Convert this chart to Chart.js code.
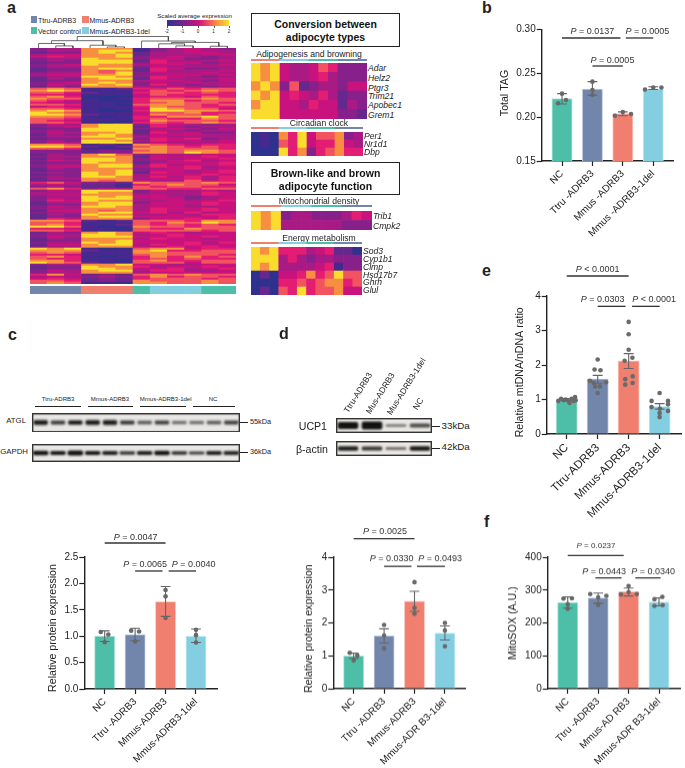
<!DOCTYPE html>
<html><head><meta charset="utf-8">
<script src="https://cdn.jsdelivr.net/npm/chart.js@4"></script>
<style>
html,body{margin:0;padding:0;background:#fff;width:685px;height:768px;overflow:hidden;font-family:"Liberation Sans",Arial,sans-serif}
#page{position:relative;width:685px;height:768px;overflow:hidden}
canvas{position:absolute;display:block}
.t{position:absolute;white-space:nowrap;color:#222;line-height:1}
.box{position:absolute;border:1.2px solid #222;box-sizing:border-box}
</style></head><body><div id="page"></div>
<script>
// ---------- data ----------
const barCategoriesB = ["NC","Ttru -ADRB3","Mmus -ADRB3","Mmus -ADRB3-1del"];
const barCategoriesC = ["NC","Ttru -ADRB3","Mmus-ADRB3","Mmus-ADRB3-1del"];
const barCategoriesD = ["NC","Ttru -ADRB3","Mmus-ADRB3","Mmus-ADR B3-1del"];
const barCategoriesE = ["NC","Ttru-ADRB3","Mmus-ADRB3","Mmus-ADRB3-1del"];
const barCategoriesF = ["NC","Ttru -ADRB3","Mmus-AD RB3","Mmus-ADR B3-1del"];

const tagMeans = [0.221,0.232,0.204,0.232];
const tagLow   = [0.215,0.225,0.2015,0.2315];
const tagHigh  = [0.2267,0.2404,0.206,0.2345];
const tagPoints = [[0,0.2267],[-0.13,0.2157],[0.13,0.2195],[1,0.2404],[1,0.2309],[1,0.2252],[1.74,0.2016],[2,0.2058],[2.27,0.2035],[2.73,0.2313],[3,0.2336],[3.27,0.2336]];

const atglMeans = [1.0,1.03,1.655,1.0];
const atglLow   = [0.9,0.915,1.375,0.88];
const atglHigh  = [1.1,1.15,1.94,1.135];
const atglPoints = [[-0.13,1.08],[0.12,1.03],[0,0.884],[0.87,1.105],[1.13,1.09],[1,0.9],[2,1.875],[2,1.755],[2,1.345],[3,1.12],[3,1.02],[3,0.88]];

const ucpMeans = [1.0,1.61,2.66,1.69];
const ucpLow   = [0.92,1.39,2.35,1.48];
const ucpHigh  = [1.08,1.82,2.96,1.91];
const ucpPoints = [[-0.13,1.09],[0.12,1.01],[0,0.86],[1,1.94],[1,1.62],[1,1.225],[2,3.24],[2,2.46],[2,2.28],[3,2.0],[3,1.77],[3,1.29]];

const mtMeans = [1.0,1.6,2.12,0.8];
const mtLow   = [0.97,1.47,1.9,0.72];
const mtHigh  = [1.03,1.7,2.33,0.88];
const mtPoints = [[-0.27,0.96],[-0.18,1.02],[-0.1,0.98],[-0.04,1.0],[0.03,0.98],[0.09,0.9],[0.16,1.02],[0.22,0.96],[0.27,1.07],[0.29,0.98],
 [1,2.16],[0.9,1.87],[1.09,1.85],[0.75,1.54],[0.87,1.48],[1.27,1.5],[1.07,1.38],[1,1.19],[0.92,1.38],
 [2,3.25],[2,2.89],[2,2.44],[1.87,2.12],[2.12,2.21],[2.13,1.67],[1.89,1.59],[1.89,1.43],[2.13,1.48],
 [3,1.19],[2.74,0.96],[3.27,0.96],[2.74,0.78],[3,0.61],[3,0.49],[3.27,0.67],[3.01,0.73],[3.27,0.86]];

const soxMeans = [262,276,295,264];
const soxLow   = [245,260,282,252];
const soxHigh  = [279,291,306,276];
const soxPoints = [[-0.14,274],[0.14,275],[0,257],[0,243],[0.74,288],[1,278],[1.27,282.5],[1,255],[2,312],[1.75,286.6],[2,294],[2.27,288],[2.85,272],[3.11,279.5],[2.85,252],[3.12,254]];

const barColors = ["#4DBFA9","#7285AB","#F07F6F","#83CFE1"];
const barEdges  = ["#B5E4DA","#C3CDE0","#F9C8C0","#C8ECF4"];

const heatLevels = ["#2F318F","#46298E","#66288C","#87208A","#A91A84","#C8127E","#E31C74","#F2545F","#F88F40","#F9DC2C"];

const mainHeatRows = [
"344 888 134543","344 899 134544","233 898 244554","455 889 244455","565 889 345434","344 988 355334","343 999 264445","233 999 365534","345 988 455445","344 888 354444","233 899 265334","233 878 264445","344 879 354454","455 889 345545","344 998 365434","243 899 264445","233 888 455435","345 898 354544","354 989 364345","243 888 445434",
"787 112 667677","898 111 576787","776 211 677676","665 111 576666","786 000 566576","877 101 677787","765 100 688677","654 111 678776","776 110 788767","565 111 687766","776 101 598775","898 100 699887","987 111 577866","998 211 587767","887 101 668897","776 111 676687","765 110 587776","776 101 676787",
"354 899 365434","345 899 264344","233 999 345435","343 999 254344","354 889 264533","243 898 355544","344 998 454444","233 889 365634","343 998 465545","354 999 354445",
"887 121 876566","998 212 787676","776 111 887776",
"333 233 787887","333 233 887987",
"243 897 344455","344 888 255565","243 998 354556","354 998 345645","233 988 245556","344 899 364556","355 899 465645","243 888 345645","233 889 355456","343 989 265456","233 989 455565","343 998 464646","244 888 455646","233 878 544756",
"675 332 877787","454 221 678775","343 221 767766","786 344 776677",
"354 999 354454","444 988 344465","455 888 454465","344 989 554345","354 999 455345","365 988 445456","244 899 355565","233 899 455465","354 998 455445","344 888 465565","255 878 465565","344 899 564645","243 988 445466","233 899 555556","265 888 355656",
"887 212 777688","776 111 768798","786 112 767676","997 101 877677","665 110 766877","776 111 777767",
"243 898 565455","344 998 456555","354 999 556565","243 888 465545","233 889 555555","344 989 555646","255 899 465655","344 888 556565",
"989 100 788566","888 211 896677","787 111 887777","665 111 787776","786 101 686867","766 111 676766","886 110 786677","987 211 777577",
"344 889 554455","233 988 645565","233 998 556456","354 899 466445","344 888 455555",
"685 232 787877","454 343 686776","565 232 677767","776 232 877787","787 111 887787"];
const mainGroups = ["Ttru","Ttru","Ttru","Mmus","Mmus","Mmus","Vector","Del","Del","Del","Vector","Vector"];
const stripGroups = ["Mmus","Del","Vector","Ttru"];
const groupColors = {Ttru:"#7285AB",Mmus:"#F07F6F",Vector:"#4DBFA9",Del:"#83CFE1"};

const adipoGenes = ["Adar","Helz2","Ptgr3","Trim21","Apobec1","Grem1"];
const adipoRows  = ["989 544 576 333","989 544 564 333","898 372 344 355","989 565 464 233","899 554 655 243","999 555 555 332"];
const clockGenes = ["Per1","Nr1d1","Dbp"];
const clockRows  = ["010 869 577 834","010 769 566 854","000 968 367 866"];
const mitoGenes  = ["Trib1","Cmpk2"];
const mitoRows   = ["989 344 333 465","989 444 444 333"];
const energyGenes = ["Sod3","Cyp1b1","Clmp","Hsd17b7","Ghrh","Glul"];
const energyRows  = ["989 666 456 220","999 464 344 333","989 444 456 133","020 556 867 977","000 667 678 867","020 769 677 855"];

// dendrogram links: left column, left base, right column, right base, height
const dendroLinks = [[1,0,2,0,6],[0,0,1.5,6,13],[4,0,5,0,3],[3,0,4.5,3,8],[0.75,13,3.75,8,21],[8,0,9,0,6],[7,0,8.5,6,12],[10,0,11,0,5],[7.75,12,10.5,5,16],[6,0,9.125,16,20],[2.25,21,7.56,20,33]];

const atglBands  = [1.0,0.75,0.95,1.0,1.05,0.8,0.6,0.72,0.55,0.55,0.6,0.72];
const gapdhBands = [0.95,0.9,1.05,0.9,0.85,0.7,0.85,0.95,0.75,0.65,0.85,0.8];
const ucp1Bands  = [1.0,1.15,0.3,0.55];
const actinBands = [0.85,0.7,0.45,0.9];

// ---------- helpers ----------
const FONT='"Liberation Sans"';
Chart.defaults.font.family=FONT;
Chart.defaults.animation=false;
const page=document.getElementById('page');
function mkCanvas(x,y,w,h){const c=document.createElement('canvas');c.width=w;c.height=h;c.style.left=x+'px';c.style.top=y+'px';c.style.width=w+'px';c.style.height=h+'px';page.appendChild(c);return c;}
function T(x,y,s,o={}){const d=document.createElement('div');d.className='t';d.textContent=s;
 d.style.left=x+'px';d.style.top=y+'px';d.style.fontSize=(o.size||9)+'px';
 if(o.bold)d.style.fontWeight='bold'; if(o.italic)d.style.fontStyle='italic'; if(o.color)d.style.color=o.color;
 const tx=o.align==='center'?'-50%':o.align==='right'?'-100%':'0';
 d.style.transformOrigin='left center';
 d.style.transform=`translate(${tx},-50%)`+(o.rot?` rotate(${o.rot}deg)`:'');
 page.appendChild(d);return d;}
function cellsChart(x,y,w,h,rows,colorOf){
 const n=rows.length,m=rows[0].length;
 const labels=Array.from({length:m},(_,i)=>String(i));
 const datasets=rows.slice().reverse().map(r=>({data:r.map(()=>1),backgroundColor:r.map(colorOf),borderWidth:0,barPercentage:1,categoryPercentage:1}));
 new Chart(mkCanvas(x,y,w,h),{type:'bar',data:{labels,datasets},options:{responsive:false,events:[],
  plugins:{legend:{display:false},tooltip:{enabled:false}},layout:{padding:0},
  scales:{x:{display:false,stacked:true},y:{display:false,stacked:true,min:0,max:n}}}});
}
const digitRows=rows=>rows.map(r=>r.replace(/ /g,'').split('').map(Number));
function heat(x,y,w,h,rows){cellsChart(x,y,w,h,digitRows(rows),v=>heatLevels[v]);}
function strip(x,y,w,h,groups){cellsChart(x,y,w,h,[groups],g=>groupColors[g]);}

function barPanel(c){
 const L=c.titleX-7,top=c.plotTop-c.padTop,W=c.plotRight+c.padRight-L,H=c.plotBottom+c.below-top;
 const annot={id:'annot',afterDatasetsDraw(ch){
  const ctx=ch.ctx,sx=ch.scales.x,sy=ch.scales.y;ctx.save();
  ctx.strokeStyle='#666';ctx.lineWidth=1.1;
  c.low.forEach((lo,i)=>{const hi=c.high[i],px=sx.getPixelForValue(i),a=sy.getPixelForValue(lo),b=sy.getPixelForValue(hi),cap=sx.getPixelForValue(i+0.16)-px;
   ctx.beginPath();ctx.moveTo(px,a);ctx.lineTo(px,b);ctx.moveTo(px-cap,a);ctx.lineTo(px+cap,a);ctx.moveTo(px-cap,b);ctx.lineTo(px+cap,b);ctx.stroke();});
  ctx.strokeStyle='#333';ctx.lineWidth=1.3;ctx.textBaseline='middle';ctx.fillStyle='#333';
  c.brackets.forEach(b=>{const y=sy.getPixelForValue(b.y);
   ctx.beginPath();ctx.moveTo(sx.getPixelForValue(b.x0),y);ctx.lineTo(sx.getPixelForValue(b.x1),y);ctx.stroke();
   const tx=sx.getPixelForValue(b.tx),ty=sy.getPixelForValue(b.ty);
   const size=b.size||9;
   ctx.font=`italic ${size}px ${FONT}`;const wP=ctx.measureText('P').width;
   ctx.font=`${size}px ${FONT}`;const rest=' '+b.text;const wR=ctx.measureText(rest).width;
   const sxx=tx-(wP+wR)/2;ctx.textAlign='left';
   ctx.font=`italic ${size}px ${FONT}`;ctx.fillText('P',sxx,ty);
   ctx.font=`${size}px ${FONT}`;ctx.fillText(rest,sxx+wP,ty);});
  // axis title, placed where the reference has it
  ctx.save();ctx.translate(7,c.titleY-top);ctx.rotate(-Math.PI/2);ctx.font=`10.6px ${FONT}`;ctx.fillStyle='#222';ctx.textAlign='center';ctx.textBaseline='middle';ctx.fillText(c.title,0,0);ctx.restore();
  ctx.restore();}};
 new Chart(mkCanvas(L,top,W,H),{
  data:{datasets:[
   {type:'bar',order:2,data:c.means.map((v,i)=>({x:i,y:v})),backgroundColor:barColors,borderColor:barEdges,borderWidth:1,barThickness:c.barW,borderSkipped:'bottom'},
   {type:'scatter',order:1,data:c.points.map(p=>({x:p[0],y:p[1]})),backgroundColor:'#6A6A6A',borderWidth:0,pointRadius:2.3}
  ]},
  options:{responsive:false,events:[],layout:{padding:{top:c.padTop,right:c.padRight,left:0,bottom:0}},
   plugins:{legend:{display:false},tooltip:{enabled:false}},
   scales:{
    x:{type:'linear',min:c.xMin,max:c.xMax,offset:false,
     grid:{display:true,drawOnChartArea:false,drawTicks:true,tickLength:5,tickColor:'#222',tickWidth:1.2,offset:false},
     border:{display:true,color:'#222',width:1.4},
     ticks:{autoSkip:false,minRotation:45,maxRotation:45,padding:2,color:'#222',font:{size:c.tickSize||10,family:FONT},callback:(v,i)=>c.cats[i]},
     afterBuildTicks:s=>{s.ticks=c.cats.map((_,i)=>({value:i}));},
     afterFit:s=>{s.height=c.below;}},
    y:{type:'linear',min:c.yMin,max:c.yMax,
     grid:{display:true,drawOnChartArea:false,drawTicks:true,tickLength:5,tickColor:'#222',tickWidth:1.2},
     border:{display:true,color:'#222',width:1.4},
     ticks:{stepSize:c.step,padding:1,color:'#222',font:{size:10,family:FONT},callback:v=>v.toFixed(c.dec)},
     afterFit:s=>{s.width=c.plotLeft-L;}}
   }},
  plugins:[annot]});
}

function blot(x,y,w,h,bands,thick,barW){
 const bg={id:'bg',beforeDraw(ch){const a=ch.ctx;a.save();a.fillStyle='#E9E7E4';a.fillRect(0,0,w,h);a.restore();},
  beforeDatasetsDraw(ch){ch.ctx.save();ch.ctx.filter='blur(1.1px)';},
  afterDatasetsDraw(ch){ch.ctx.restore();},
  afterDraw(ch){const a=ch.ctx;a.save();a.strokeStyle='#333';a.lineWidth=1.4;a.strokeRect(0.7,0.7,w-1.4,h-1.4);a.restore();}};
 new Chart(mkCanvas(x,y,w,h),{type:'bar',
  data:{labels:bands.map((_,i)=>'lane'+i),datasets:[{
   data:bands.map(s=>[-s*thick,s*thick]),
   backgroundColor:bands.map(s=>`rgba(18,18,18,${Math.min(1,0.35+0.7*s)})`),
   barThickness:barW,borderRadius:2,borderSkipped:false,borderWidth:0}]},
  options:{responsive:false,events:[],layout:{padding:0},plugins:{legend:{display:false},tooltip:{enabled:false}},
   scales:{x:{display:false},y:{display:false,min:-1,max:1}}},
  plugins:[bg]});
}

// ---------- panel a ----------
T(7,8,'a',{size:16,bold:true});
[[30.7,16,'Ttru'],[82,16,'Mmus'],[30.7,27,'Vector'],[82,27,'Del']].forEach(s=>{const d=document.createElement('div');d.style.cssText=`position:absolute;left:${s[0]}px;top:${s[1]}px;width:6.5px;height:6.5px;background:${groupColors[s[2]]}`;page.appendChild(d);});
T(38,19.5,'Ttru-ADRB3',{size:7});T(89.5,19.5,'Mmus-ADRB3',{size:7});
T(38,30.5,'Vector control',{size:7});T(89.5,30.5,'Mmus-ADRB3-1del',{size:7});
T(194.5,16,'Scaled average expression',{size:6.2,align:'center'});
{const d=document.createElement('div');d.style.cssText='position:absolute;left:166.7px;top:19.5px;width:62.5px;height:6.3px;background:linear-gradient(90deg,#2F318F 0%,#66288C 22%,#C8127E 50%,#F2545F 68%,#F99A3C 82%,#FADF28 100%)';page.appendChild(d);}
['-2','-1','0','1','2'].forEach((s,i)=>{const x=166.7+i*15.6;const d=document.createElement('div');d.style.cssText=`position:absolute;left:${x}px;top:26px;width:.6px;height:2px;background:#555`;page.appendChild(d);T(x,31.5,s,{size:4.5,align:'center'});});

new Chart(mkCanvas(30,33,206,15),{type:'scatter',
 data:{datasets:dendroLinks.map(l=>({data:[{x:l[0],y:l[1]},{x:l[0],y:l[4]},{x:l[2],y:l[4]},{x:l[2],y:l[3]}],showLine:true,borderColor:'#444',borderWidth:0.8,pointRadius:0,tension:0}))},
 options:{responsive:false,events:[],layout:{padding:0},plugins:{legend:{display:false},tooltip:{enabled:false}},
  scales:{x:{display:false,type:'linear',min:-0.5,max:11.5},y:{display:false,type:'linear',min:0,max:43}}}});
heat(30,48,206,236,mainHeatRows);
strip(30,286,206,8,mainGroups);

// ---------- adipocyte heatmaps ----------
function box(x,y,w,h,l1,l2){const d=document.createElement('div');d.className='box';d.style.cssText+=`left:${x}px;top:${y}px;width:${w}px;height:${h}px`;page.appendChild(d);
 T(x+w/2,y+h*0.32,l1,{size:10.5,bold:true,align:'center',color:'#111'});T(x+w/2,y+h*0.72,l2,{size:10.5,bold:true,align:'center',color:'#111'});}
function geneBlock(title,titleX,titleY,stripY,x,w,hy,hh,rows,genes,centers){
 T(titleX,titleY,title,{size:8.6,align:'center'});
 strip(x,stripY,w,2,stripGroups);
 heat(x,hy,w,hh,rows);
 genes.forEach((g,i)=>T(x+w+1,centers[i],g,{size:8.6,italic:true}));
}
box(251,13,149,34,'Conversion between','adipocyte types');
geneBlock('Adipogenesis and browning',309,54,58.5,251,116,63,56,adipoRows,adipoGenes,[67.5,78,88,96,105,114.5]);
geneBlock('Circadian clock',319,123,127,251,112,132,24,clockRows,clockGenes,[136,144,152]);
box(251,162,149,33,'Brown-like and brown','adipocyte function');
geneBlock('Mitochondrial density',319,201,205,251,121,211,19,mitoRows,mitoGenes,[216,226]);
geneBlock('Energy metabolism',319,237.5,242,251,111,247,48,energyRows,energyGenes,[251,258.7,266.7,274.7,282.3,290]);

// ---------- panel b ----------
T(482,8,'b',{size:16,bold:true});
barPanel({titleX:505,titleY:93,plotLeft:541.7,plotRight:673,plotTop:29.3,plotBottom:161,padTop:29.3,padRight:12,below:90,
 xMin:-0.668,xMax:3.65,yMin:0.15,yMax:0.30,step:0.05,dec:2,barW:20.3,title:'Total TAG',cats:barCategoriesB,
 means:tagMeans,low:tagLow,high:tagHigh,points:tagPoints,
 brackets:[{x0:0,x1:1.92,y:0.2901,tx:1.0,ty:0.2973,text:'= 0.0137'},{x0:2.1,x1:3,y:0.2901,tx:2.81,ty:0.2973,text:'= 0.0005'},{x0:1,x1:2,y:0.2582,tx:1.66,ty:0.2643,text:'= 0.0005'}]});

// ---------- panel c ----------
T(8,335,'c',{size:16,bold:true});
[[58,'Ttru-ADRB3',35,81],[110,'Mmus-ADRB3',88,133],[165.7,'Mmus-ADRB3-1del',140,186],[213,'NC',193,235]].forEach(h=>{
 T(h[0],398.7,h[1],{size:6,align:'center'});
 const d=document.createElement('div');d.style.cssText=`position:absolute;left:${h[2]}px;top:405.5px;width:${h[3]-h[2]}px;height:.8px;background:#222`;page.appendChild(d);});
blot(32,413,208,18.5,atglBands,0.2,14);
blot(32,443.5,208,18,gapdhBands,0.22,15);
T(26,421,'ATGL',{size:7.8,align:'right'});T(28,452,'GAPDH',{size:7.8,align:'right'});
T(250,421.5,'55kDa',{size:7.3});T(250,452,'36kDa',{size:7.3});
[421.5,452].forEach(y=>{const d=document.createElement('div');d.style.cssText=`position:absolute;left:240px;top:${y}px;width:8px;height:.8px;background:#222`;page.appendChild(d);});
barPanel({titleX:53,titleY:628,plotLeft:84.3,plotRight:217,plotTop:557,plotBottom:689,padTop:32,padRight:14,below:79,
 xMin:-0.67,xMax:3.69,yMin:0,yMax:2.5,step:0.5,dec:1,barW:20.3,title:'Relative protein expression',cats:barCategoriesC,
 means:atglMeans,low:atglLow,high:atglHigh,points:atglPoints,
 brackets:[{x0:0,x1:2,y:2.765,tx:1.02,ty:2.87,text:'= 0.0047'},{x0:1,x1:1.9,y:2.235,tx:1.33,ty:2.36,text:'= 0.0065'},{x0:2.1,x1:3,y:2.235,tx:2.92,ty:2.36,text:'= 0.0040'}]});

// ---------- panel d ----------
T(279,334,'d',{size:16,bold:true});
[[346,412,'Ttru-ADRB3'],[367.7,413,'Mus-ADRB3'],[389,414,'Mus-ADRB3-1del'],[415,409,'NC']].forEach(l=>T(l[0],l[1],l[2],{size:8.4,rot:-58}));
blot(336,418,96,15,ucp1Bands,0.42,20);
blot(336,441,96,15,actinBands,0.3,20);
T(327,425.5,'UCP1',{size:10.6,align:'right'});T(328,449,'β-actin',{size:10.6,align:'right'});
T(441.5,425.5,'33kDa',{size:9.8});T(441.5,447,'42kDa',{size:9.8});
[[432,425.5],[432,447.5]].forEach(p=>{const d=document.createElement('div');d.style.cssText=`position:absolute;left:${p[0]}px;top:${p[1]}px;width:8px;height:.9px;background:#222`;page.appendChild(d);});
barPanel({titleX:309,titleY:628.5,plotLeft:333.3,plotRight:465,plotTop:557.3,plotBottom:689,padTop:32,padRight:12,below:79,
 xMin:-0.67,xMax:3.66,yMin:0,yMax:4,step:1,dec:0,barW:20.3,title:'Relative protein expression',cats:barCategoriesD,
 means:ucpMeans,low:ucpLow,high:ucpHigh,points:ucpPoints,
 brackets:[{x0:0,x1:2,y:4.56,tx:1.03,ty:4.77,text:'= 0.0025'},{x0:1,x1:1.9,y:3.72,tx:1.25,ty:3.94,text:'= 0.0330'},{x0:2.08,x1:3,y:3.72,tx:2.84,ty:3.94,text:'= 0.0493'}]});

// ---------- panel e ----------
T(482,271,'e',{size:16,bold:true});
barPanel({titleX:520,titleY:372,plotLeft:546.7,plotRight:685,plotTop:295.7,plotBottom:433.7,padTop:30,padRight:0,below:95,tickSize:11.5,
 xMin:-0.646,xMax:3.69,yMin:0,yMax:4,step:1,dec:0,barW:21.3,title:'Relative mtDNA/nDNA ratio',cats:barCategoriesE,
 means:mtMeans,low:mtLow,high:mtHigh,points:mtPoints,
 brackets:[{x0:0,x1:2,y:4.58,tx:1.0,ty:4.77,text:'< 0.0001'},{x0:1,x1:1.9,y:3.7,tx:1.16,ty:3.89,text:'= 0.0303'},{x0:2.11,x1:3,y:3.7,tx:2.82,ty:3.89,text:'< 0.0001'}]});

// ---------- panel f ----------
T(484,522,'f',{size:16,bold:true});
barPanel({titleX:513,titleY:623,plotLeft:547.7,plotRight:680,plotTop:557.3,plotBottom:689,padTop:30,padRight:5,below:79,
 xMin:-0.658,xMax:3.69,yMin:0,yMax:400,step:100,dec:0,barW:20.3,title:'MitoSOX (A.U.)',cats:barCategoriesF,
 means:soxMeans,low:soxLow,high:soxHigh,points:soxPoints,
 brackets:[{x0:0,x1:1.84,y:405,tx:0.93,ty:434,text:'= 0.0237',size:8},{x0:0.91,x1:1.77,y:337,tx:1.2,ty:356,text:'= 0.0443'},{x0:2.22,x1:3.05,y:337,tx:2.81,ty:356,text:'= 0.0340'}]});
</script></body></html>
